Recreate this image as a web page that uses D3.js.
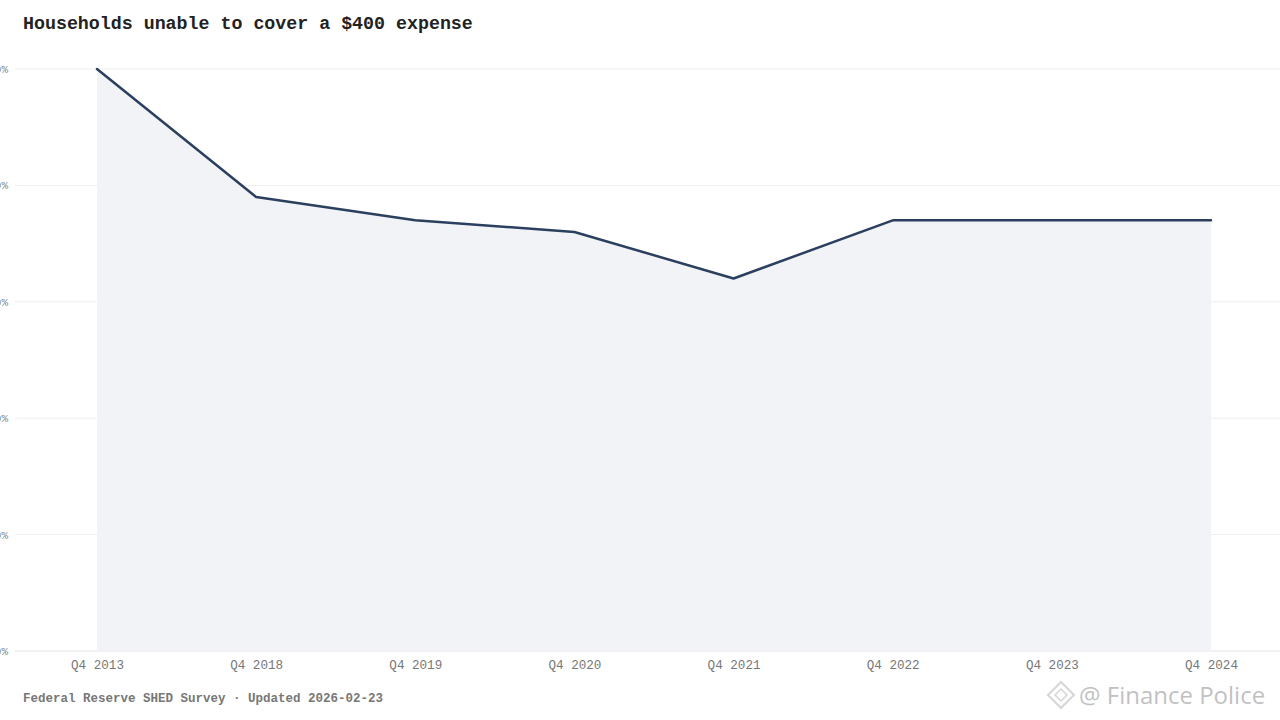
<!DOCTYPE html>
<html><head><meta charset="utf-8">
<script src="https://cdn.jsdelivr.net/npm/d3@7"></script>
<style>
html,body{margin:0;padding:0;background:#fff;}
svg{display:block;}
</style></head>
<body>
<svg id="chart" width="1280" height="720"></svg>
<script>
const categories = ["Q4 2013","Q4 2018","Q4 2019","Q4 2020","Q4 2021","Q4 2022","Q4 2023","Q4 2024"];
const values = [50, 39, 37, 36, 32, 37, 37, 37];
const yTicks = [0, 10, 20, 30, 40, 50];
const title = "Households unable to cover a $400 expense";
const footer = "Federal Reserve SHED Survey · Updated 2026-02-23";
const watermark = "@ Finance Police";

const svg = d3.select("#chart");
const mono = "'Liberation Mono', 'DejaVu Sans Mono', monospace";

const x = d3.scalePoint().domain(categories).range([97, 1211]);
const y = d3.scaleLinear().domain([0, 50]).range([651, 69]);

svg.append("text").attr("x", 23).attr("y", 29)
  .attr("font-family", mono).attr("font-size", 18.3).attr("font-weight", "bold")
  .attr("fill", "#222").text(title);

// grid
svg.append("g").selectAll("line").data(yTicks).join("line")
  .attr("x1", 15).attr("x2", 1280)
  .attr("y1", d => y(d)).attr("y2", d => y(d))
  .attr("stroke", d => d === 0 ? "#e2e2e2" : "#eeeeee").attr("stroke-width", 1);

// y tick labels (partly off the left edge, as in the reference)
svg.append("g").selectAll("text").data(yTicks).join("text")
  .attr("x", 8).attr("y", d => y(d) + 4)
  .attr("text-anchor", "end")
  .attr("font-family", mono).attr("font-size", 11).attr("fill", "#888")
  .text(d => d + "%");

const data = categories.map((c, i) => ({c, v: values[i]}));

const area = d3.area().x(d => x(d.c)).y0(y(0)).y1(d => y(d.v));
const line = d3.line().x(d => x(d.c)).y(d => y(d.v));

svg.append("path").datum(data).attr("d", area).attr("fill", "#f1f3f6");
svg.append("path").datum(data).attr("d", line).attr("fill", "none")
  .attr("stroke", "#2b3f5e").attr("stroke-width", 2.5)
  .attr("stroke-linejoin", "round").attr("stroke-linecap", "round");

// x axis
const xAxis = d3.axisBottom(x).tickSize(0).tickPadding(9);
const gx = svg.append("g").attr("transform", `translate(0,${y(0)})`).call(xAxis);
gx.select(".domain").remove();
gx.selectAll("text").attr("font-family", mono).attr("font-size", 12.6).attr("fill", "#777");

svg.append("text").attr("x", 23).attr("y", 702)
  .attr("font-family", mono).attr("font-size", 12.5).attr("font-weight", "bold")
  .attr("fill", "#777").text(footer);

// watermark
const wm = svg.append("g").attr("opacity", 0.6);
wm.append("path").attr("d", "M1061,682 L1074,695 L1061,708 L1048,695 Z")
  .attr("fill", "none").attr("stroke", "#bbb").attr("stroke-width", 2);
wm.append("path").attr("d", "M1061,689 L1067,695 L1061,701 L1055,695 Z")
  .attr("fill", "none").attr("stroke", "#bbb").attr("stroke-width", 1.5);
wm.append("text").attr("x", 1079).attr("y", 704)
  .attr("font-family", "'Open Sans', 'Noto Sans', sans-serif").attr("font-size", 24)
  .attr("fill", "#999").text(watermark);
</script>
</body></html>
